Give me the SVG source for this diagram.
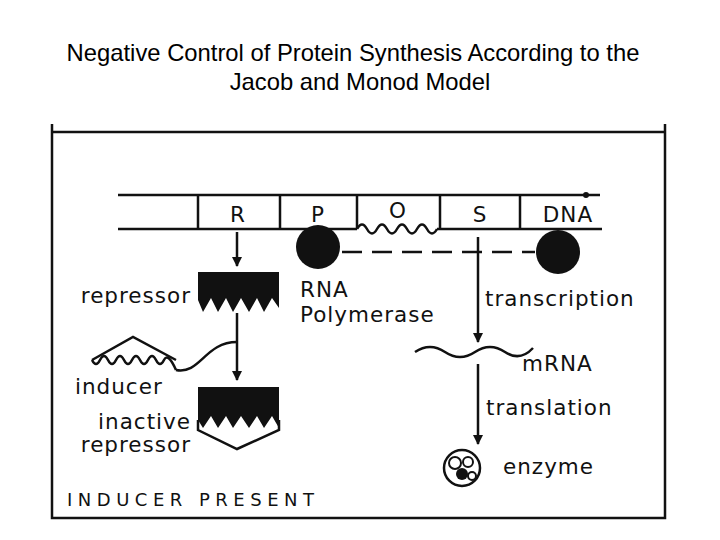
<svg xmlns="http://www.w3.org/2000/svg" width="720" height="540" viewBox="0 0 720 540">
<defs>
<style>
.t{font-family:"Liberation Sans",Arial,sans-serif;font-size:23.8px;fill:#000}
.l{font-family:"DejaVu Sans","Liberation Sans",sans-serif;font-size:21.5px;fill:#111;letter-spacing:1px}
.s{stroke:#111;stroke-width:2.5;fill:none}
</style>
<marker id="ah" viewBox="0 0 10 10" refX="9" refY="5" markerWidth="4" markerHeight="6" orient="auto" markerUnits="strokeWidth"><path d="M0,0 L10,5 L0,10 z" fill="#111"/></marker>
</defs>
<rect width="720" height="540" fill="#fff"/>
<text class="t" x="353" y="61" text-anchor="middle">Negative Control of Protein Synthesis According to the</text>
<text class="t" x="360" y="90" text-anchor="middle">Jacob and Monod Model</text>
<g id="frame" class="s"><path d="M52,124 V518 H665 V124 M52,132 H665"/></g>
<g id="dna">
<path class="s" d="M118,195 H600 M118,229 H357 M437,229 H602 M198,195 V229 M280,195 V229 M357,195 V229 M440,195 V229 M520,195 V229"/>
<path class="s" d="M357,229 q5,-9 10,0 t10,0 t10,0 t10,0 t10,0 t10,0 t10,0 t10,0"/>
<circle cx="586" cy="195" r="3" fill="#111"/>
<text class="l" x="238" y="222" text-anchor="middle">R</text>
<text class="l" x="318" y="222" text-anchor="middle">P</text>
<text class="l" x="398" y="218" text-anchor="middle">O</text>
<text class="l" x="480" y="222" text-anchor="middle">S</text>
<text class="l" x="568" y="222" text-anchor="middle">DNA</text>
</g>
<g id="polymerase">
<circle cx="318" cy="247" r="22" fill="#111"/>
<circle cx="558" cy="252" r="22" fill="#111"/>
<text class="l" x="300" y="297">RNA</text>
<text class="l" x="300" y="322">Polymerase</text>
</g>
<g id="repressor">
<path fill="#111" d="M198,272 H279 V308 L272,298 L264,312 L257,298 L249,312 L241,298 L233,312 L226,298 L218,312 L211,298 L203,312 L198,300 Z"/>
<text class="l" x="191" y="303" text-anchor="end">repressor</text>
</g>
<g id="inducer">
<path class="s" d="M92,360 L133,337 L176,360"/>
<path class="s" d="M92,360 q4,8 8,0 t8,0 t8,0 t8,0 t8,0 t8,0 t8,0 t8,0 t8,0 t12,10"/>
<text class="l" x="75" y="394">inducer</text>
</g>
<g id="inactive">
<path fill="#111" d="M198,387 H279 V428 L272,416 L264,428 L257,416 L249,428 L241,416 L233,428 L226,416 L218,428 L211,416 L203,428 L198,420 Z"/>
<path class="s" d="M198,420 V430 L237,449 L279,430 V420"/>
<text class="l" x="191" y="429" text-anchor="end">inactive</text>
<text class="l" x="191" y="452" text-anchor="end">repressor</text>
</g>
<g id="mrna">
<path class="s" d="M415,352 q15,-10 30,0 t30,0 t30,0 t28,-4"/>
<text class="l" x="522" y="371">mRNA</text>
</g>
<g id="enzyme">
<circle cx="462" cy="468" r="18" fill="#fff" stroke="#111" stroke-width="2.5"/>
<circle cx="455" cy="463" r="6" fill="none" stroke="#111" stroke-width="2"/>
<circle cx="468" cy="462" r="5" fill="none" stroke="#111" stroke-width="2"/>
<circle cx="462" cy="474" r="6" fill="#111"/>
<circle cx="472" cy="476" r="4" fill="none" stroke="#111" stroke-width="2"/>
<text class="l" x="503" y="474">enzyme</text>
</g>
<g id="connectors" class="s">
<path d="M237,232 V266" marker-end="url(#ah)"/>
<path d="M237,313 V380" marker-end="url(#ah)"/>
<path d="M176,370 C200,375 205,342 237,342"/>
<path d="M342,252 H535" stroke-dasharray="20,10"/>
<path d="M478,237 V342" marker-end="url(#ah)"/>
<path d="M478,364 V444" marker-end="url(#ah)"/>
</g>
<text class="l" x="485" y="306">transcription</text>
<text class="l" x="486" y="415">translation</text>
<text class="l" x="67" y="506" style="font-size:18px;letter-spacing:5.5px">INDUCER PRESENT</text>
</svg>
